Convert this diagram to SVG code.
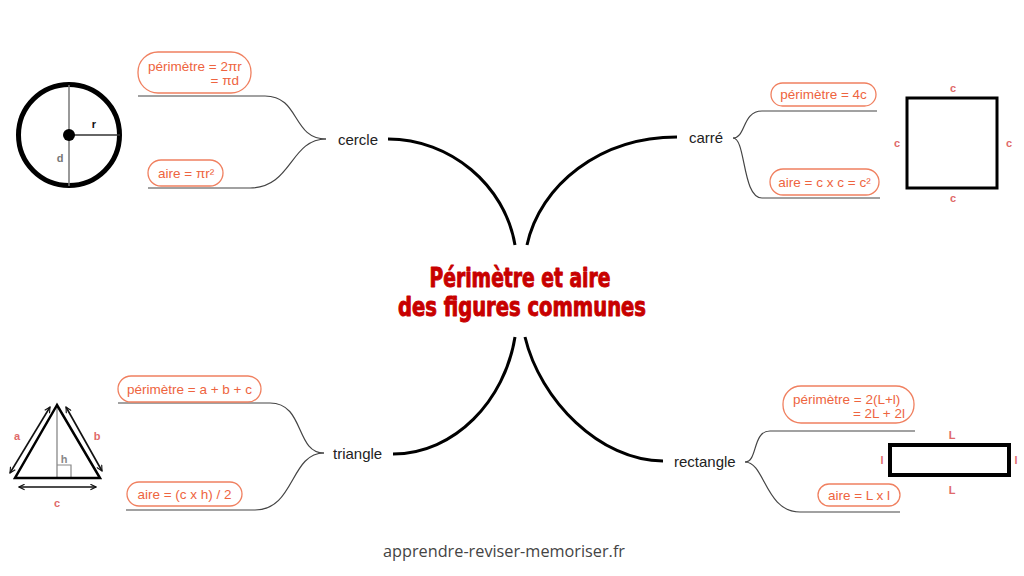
<svg xmlns="http://www.w3.org/2000/svg" width="1024" height="576" viewBox="0 0 1024 576">
<defs>
<style>
.lbl{font-family:"Liberation Sans",Arial,sans-serif;font-size:15px;fill:#222}
.pill{fill:#fff;stroke:#f08060;stroke-width:1.3}
.pt{font-family:"Liberation Sans",Arial,sans-serif;font-size:13.5px;fill:#ee6440}
.br{fill:none;stroke:#444;stroke-width:1.2}
.main{fill:none;stroke:#000;stroke-width:3;stroke-linecap:butt}
.sl{font-family:"Liberation Sans",Arial,sans-serif;font-size:11px;font-weight:bold;fill:#e06a6a}
.title{font-family:"Liberation Sans Narrow","DejaVu Sans Condensed","Liberation Sans",sans-serif;font-weight:bold;font-size:26px;fill:#c80000;stroke:#c80000;stroke-width:0.9;stroke-linejoin:round}
</style>
<marker id="ah" viewBox="0 0 10 10" refX="9" refY="5" markerWidth="7" markerHeight="7" markerUnits="userSpaceOnUse" orient="auto-start-reverse">
<path d="M1,1 L9,5 L1,9" fill="none" stroke="#111" stroke-width="1.6"/>
</marker>
</defs>
<rect width="1024" height="576" fill="#fff"/>

<g id="connectors">
<path class="main" d="M388,139 C450,139 505,185 515,245"/>
<path class="main" d="M527,245 C540,185 600,137 677,137"/>
<path class="main" d="M515,337 C505,400 455,454 393,454"/>
<path class="main" d="M525,337 C540,400 600,461 663,461"/>
<path class="br" d="M138,96 L265,96 C300,96 292,139 326,139"/>
<path class="br" d="M148,188 L250,188 C292,188 290,139 326,139"/>
<path class="br" d="M877,111 L762,111 C742,111 746,138 733,138"/>
<path class="br" d="M880,198 L762,198 C742,198 746,138 733,138"/>
<path class="br" d="M118,403 L270,403 C305,403 295,453 324,453"/>
<path class="br" d="M126,510 L255,510 C295,510 290,453 324,453"/>
<path class="br" d="M915,431 L770,431 C752,431 758,462 745,462"/>
<path class="br" d="M900,512 L800,512 C765,512 765,462 745,462"/>
</g>

<g id="title">
<text class="title" x="520" y="287" text-anchor="middle" textLength="181" lengthAdjust="spacingAndGlyphs">Périmètre et aire</text>
<text class="title" x="522" y="316" text-anchor="middle" textLength="248" lengthAdjust="spacingAndGlyphs">des figures communes</text>
</g>

<g id="cercle">
<text class="lbl" x="338" y="145">cercle</text>
<rect class="pill" x="138" y="52" width="113" height="41" rx="20"/>
<text class="pt" x="148" y="71">périmètre = 2πr</text>
<text class="pt" x="239" y="85" text-anchor="end">= πd</text>
<rect class="pill" x="148" y="160" width="75" height="26" rx="13"/>
<text class="pt" x="158" y="178">aire = πr²</text>
<circle cx="69" cy="135" r="50.5" fill="none" stroke="#000" stroke-width="5"/>
<line x1="69" y1="85" x2="69" y2="186" stroke="#777" stroke-width="1.5"/>
<line x1="69" y1="135" x2="120" y2="135" stroke="#333" stroke-width="1.5"/>
<circle cx="69" cy="135" r="6" fill="#000"/>
<text x="94" y="128" font-family="Liberation Sans,Arial,sans-serif" font-size="11" font-weight="bold" fill="#111" text-anchor="middle">r</text>
<text x="60" y="162" font-family="Liberation Sans,Arial,sans-serif" font-size="11" font-weight="bold" fill="#777" text-anchor="middle">d</text>
</g>

<g id="carre">
<text class="lbl" x="689" y="143">carré</text>
<rect class="pill" x="771" y="83" width="105" height="23" rx="11.5"/>
<text class="pt" x="823.5" y="99" text-anchor="middle">périmètre = 4c</text>
<rect class="pill" x="770" y="169" width="109" height="26" rx="13"/>
<text class="pt" x="824.5" y="187" text-anchor="middle">aire = c x c = c²</text>
<rect x="907" y="98" width="90" height="90" fill="none" stroke="#000" stroke-width="3"/>
<text class="sl" x="953" y="92" text-anchor="middle">c</text>
<text class="sl" x="897" y="147" text-anchor="middle">c</text>
<text class="sl" x="1009" y="147" text-anchor="middle">c</text>
<text class="sl" x="953" y="202" text-anchor="middle">c</text>
</g>

<g id="triangle">
<text class="lbl" x="333" y="459">triangle</text>
<rect class="pill" x="118" y="376" width="143" height="26" rx="13"/>
<text class="pt" x="189.5" y="394" text-anchor="middle">périmètre = a + b + c</text>
<rect class="pill" x="127" y="482" width="115" height="24" rx="12"/>
<text class="pt" x="184.5" y="499" text-anchor="middle">aire = (c x h) / 2</text>
<line x1="57" y1="406" x2="57" y2="478" stroke="#888" stroke-width="1.3"/>
<polyline points="57,465 71,465 71,478" fill="none" stroke="#888" stroke-width="1.2"/>
<polygon points="57,405 15,478 100,478" fill="none" stroke="#000" stroke-width="2.5" stroke-linejoin="miter"/>
<line x1="10" y1="473" x2="50" y2="407" stroke="#111" stroke-width="1.6" marker-start="url(#ah)" marker-end="url(#ah)"/>
<line x1="66" y1="407" x2="102" y2="471" stroke="#111" stroke-width="1.6" marker-start="url(#ah)" marker-end="url(#ah)"/>
<line x1="19" y1="487" x2="96" y2="487" stroke="#111" stroke-width="1.6" marker-start="url(#ah)" marker-end="url(#ah)"/>
<text x="64" y="463" font-family="Liberation Sans,Arial,sans-serif" font-size="11" font-weight="bold" fill="#888" text-anchor="middle">h</text>
<text class="sl" x="17" y="440" text-anchor="middle">a</text>
<text class="sl" x="97" y="440" text-anchor="middle">b</text>
<text class="sl" x="57" y="507" text-anchor="middle">c</text>
</g>

<g id="rectangle">
<text class="lbl" x="674" y="467">rectangle</text>
<rect class="pill" x="783" y="386" width="131" height="37" rx="18"/>
<text class="pt" x="793" y="404">périmètre = 2(L+l)</text>
<text class="pt" x="905" y="418" text-anchor="end">= 2L + 2l</text>
<rect class="pill" x="818" y="484" width="82" height="22" rx="11"/>
<text class="pt" x="859" y="500" text-anchor="middle">aire = L x l</text>
<rect x="890" y="445" width="119" height="30" fill="none" stroke="#000" stroke-width="4"/>
<text class="sl" x="952" y="439" text-anchor="middle">L</text>
<text class="sl" x="882" y="464" text-anchor="middle">l</text>
<text class="sl" x="1016" y="464" text-anchor="middle">l</text>
<text class="sl" x="952" y="494" text-anchor="middle">L</text>
</g>

<g id="footer">
<text x="383" y="557" font-family="'Open Sans',sans-serif" font-size="16" fill="#444" textLength="242" lengthAdjust="spacingAndGlyphs">apprendre-reviser-memoriser.fr</text>
</g>
</svg>
